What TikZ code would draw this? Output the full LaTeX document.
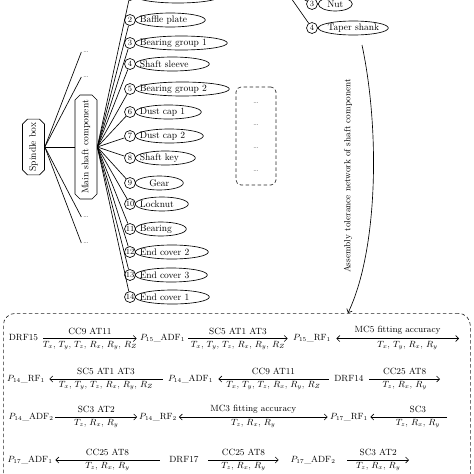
\documentclass[tikz,border=0pt]{standalone}
\usetikzlibrary{shapes.geometric,shapes.misc,arrows.meta}
\begin{document}
\begin{tikzpicture}[x=1pt,y=-1pt,line width=0.65pt,
  >={Straight Barb[length=3pt,width=6pt]},
  every node/.style={font=\fontsize{9.5}{11}\selectfont},
  chbox/.style={draw,chamfered rectangle,chamfered rectangle xsep=2.5pt,chamfered rectangle ysep=2.5pt,rotate=90,inner sep=1pt,minimum height=22pt},
  num/.style={draw,circle,inner sep=0pt,minimum size=11pt,font=\fontsize{8}{9}\selectfont},
  part/.style={draw,ellipse,inner sep=0pt,minimum height=14pt,anchor=west},
  ptext/.style={anchor=west,inner sep=0pt,xshift=4.5pt},
  dotn/.style={inner sep=1.5pt,text=black!75,font=\fontsize{8}{9}\selectfont},
  ntx/.style={inner sep=0pt,text height=7pt,text depth=2.5pt,font=\fontsize{9}{10}\selectfont},
  labA/.style={above,inner sep=3.5pt,font=\fontsize{9}{10}\selectfont},
  labB/.style={below,inner sep=2.5pt,font=\fontsize{9}{10}\selectfont},
  nbox/.style={draw=black!85,dashed,dash pattern=on 3.5pt off 2.5pt,inner sep=0pt}
]
\useasboundingbox (0,0) rectangle (474,474);

% left tree
\node[chbox,minimum width=55pt] (sb) at (33.5,147) {Spindle box};
\node[chbox,minimum width=104pt] (ms) at (86,147) {Main shaft component};
\draw (sb.south) -- (ms.north);
\node[dotn] (d1) at (86,52) {\dots};
\node[dotn] (d2) at (86,77) {\dots};
\node[dotn] (d3) at (86,217) {\dots};
\node[dotn] (d4) at (86,243) {\dots};
\foreach \d in {d1,d2,d3,d4} \draw (sb.south) -- (\d.west);

\node[num] (c1) at (130,-5) {};
\node[part,minimum width=85pt] (e1) at (135,-4) {};
\draw (ms.south) -- (c1);
\foreach \i/\y/\w/\t in {2/20/70/Baffle plate,3/43/92/Bearing group 1,4/64/74/Shaft sleeve,5/89/94/Bearing group 2,6/112/66/Dust cap 1,7/136/68/Dust cap 2,8/158/60/Shaft key,10/204/53/Locknut,11/229/51/Bearing,12/252/73/End cover 2,13/275/72/End cover 3,14/297/74/End cover 1}{
  \node[num] (c\i) at (130,\y) {\i};
  \node[part,minimum width=\w pt,label={[ptext]west:\t}] (e\i) at (135,\y) {};
  \draw (ms.south) -- (c\i);
}
\node[num] (c9) at (130,183) {9};
\node[part,minimum width=48pt] (e9) at (135,183) {\makebox[0pt]{Gear}};
\draw (ms.south) -- (c9);

% right subtree
\coordinate (rt) at (284,-12);
\node[num] (r3) at (312,4) {3};
\node[part,minimum width=34pt] (n3) at (318,4) {\makebox[0pt]{Nut}};
\node[num] (r4) at (312,28) {4};
\node[part,minimum width=70pt] (n4) at (318,28) {\makebox[0pt]{Taper shank}};
\draw (rt) -- (r3);
\draw (rt) -- (r4);

% middle dashed box
\node[nbox,rounded corners=5pt,minimum width=40pt,minimum height=98pt] (mbox) at (256,136) {};
\node[dotn] (m1) at (256,103) {\dots};
\node[dotn] (m2) at (256,125) {\dots};
\node[dotn] (m3) at (256,148) {\dots};
\node[dotn] (m4) at (256,171) {\dots};

% curved arrow and its label
\node[rotate=90,font=\fontsize{9}{10}\selectfont] (lblnet) at (348,176) {Assembly tolerance network of shaft component};
\coordinate (cs) at (362,45);
\coordinate (ce) at (348,313);
\draw[->] (cs) .. controls (380,130) and (378,250) .. (ce);

% network box
\node[nbox,rounded corners=12pt,minimum width=467pt,minimum height=180pt,anchor=north west] (net) at (3,313) {};

% row 1
\node[ntx,minimum width=39pt] (drf15) at (23.5,338.5) {DRF15};
\node[ntx,minimum width=51pt] (p15adf1) at (162.5,338.5) {$P_{15}$\_ADF$_1$};
\node[ntx,minimum width=48pt] (p15rf1) at (312,338.5) {$P_{15}$\_RF$_1$};
\coordinate (f1) at (459,338.5);
\draw[->] (drf15) -- node[labA]{CC9 AT11} node[labB]{$T_x,\,T_y,\,T_z,\,R_x,\,R_y,\,R_Z$} (p15adf1);
\draw[->] (p15adf1) -- node[labA]{SC5 AT1 AT3} node[labB]{$T_x,\,T_y,\,T_z,\,R_x,\,R_y,\,R_Z$} (p15rf1);
\draw[<->] (p15rf1) -- node[labA]{MC5 fitting accuracy} node[labB,pos=0.58]{$T_x,\,T_y,\,R_x,\,R_y$} (f1);

% row 2
\node[ntx,minimum width=46pt] (p14rf1) at (26,379) {$P_{14}$\_RF$_1$};
\node[ntx,minimum width=55pt] (p14adf1) at (190.5,379) {$P_{14}$\_ADF$_1$};
\node[ntx,minimum width=40pt] (drf14) at (349,379) {DRF14};
\coordinate (f2) at (440,379);
\draw[->] (p14adf1) -- node[labA]{SC5 AT1 AT3} node[labB]{$T_x,\,T_y,\,T_z,\,R_x,\,R_y,\,R_Z$} (p14rf1);
\draw[->] (drf14) -- node[labA]{CC9 AT11} node[labB]{$T_x,\,T_y,\,T_z,\,R_x,\,R_y,\,R_Z$} (p14adf1);
\draw[->] (drf14) -- node[labA]{CC25 AT8} node[labB]{$T_z,\,R_x,\,R_y$} (f2);

% row 3
\node[ntx,minimum width=48pt] (p14adf2) at (31,417) {$P_{14}$\_ADF$_2$};
\node[ntx,minimum width=41pt] (p14rf2) at (158,417) {$P_{14}$\_RF$_2$};
\node[ntx,minimum width=42pt] (p17rf1) at (349,417) {$P_{17}$\_RF$_1$};
\coordinate (f3) at (447,417);
\draw[->] (p14adf2) -- node[labA]{SC3 AT2} node[labB]{$T_z,\,R_x,\,R_y$} (p14rf2);
\draw[<->] (p14rf2) -- node[labA]{MC3 fitting accuracy} node[labB]{$T_z,\,R_x,\,R_y$} (p17rf1);
\draw[->] (f3) -- node[labA,pos=0.38]{SC3} node[labB,pos=0.38]{$T_z,\,R_x,\,R_y$} (p17rf1);

% row 4
\node[ntx,minimum width=50pt] (p17adf1) at (30,460) {$P_{17}$\_ADF$_1$};
\node[ntx,minimum width=48pt] (drf17) at (184,460) {DRF17};
\node[ntx,minimum width=68pt] (p17adf2) at (313,460) {$P_{17}$\_ADF$_2$};
\coordinate (f4) at (409,460);
\draw[->] (drf17) -- node[labA]{CC25 AT8} node[labB]{$T_z,\,R_x,\,R_y$} (p17adf1);
\draw[->] (drf17) -- node[labA]{CC25 AT8} node[labB]{$T_z,\,R_x,\,R_y$} (p17adf2);
\draw[->] (p17adf2) -- node[labA]{SC3 AT2} node[labB]{$T_z,\,R_x,\,R_y$} (f4);
\end{tikzpicture}
\end{document}
